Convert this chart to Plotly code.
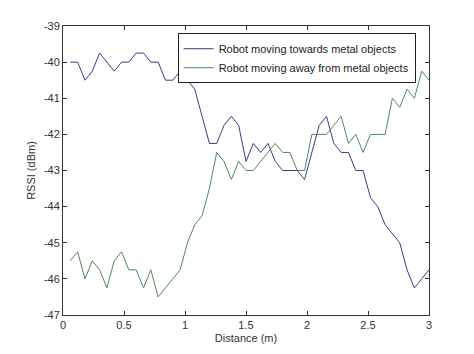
import plotly.graph_objects as go

distance = [round(0.06 * i, 2) for i in range(1, 51)]

towards = [-40, -40, -40.5, -40.25, -39.75, -40, -40.25, -40, -40, -39.75,
           -39.75, -40, -40, -40.5, -40.5, -40.25, -40.5, -40.75, -41.5, -42.25,
           -42.25, -41.75, -41.5, -41.75, -42.75, -42.25, -42.5, -42.25, -42.75, -43,
           -43, -43, -43.25, -42.5, -41.75, -41.5, -42.25, -42.5, -42.5, -43,
           -43, -43.75, -44, -44.5, -44.75, -45, -45.75, -46.25, -46, -45.75]

away = [-45.5, -45.25, -46, -45.5, -45.75, -46.25, -45.5, -45.25, -45.75, -45.75,
        -46.25, -45.75, -46.5, -46.25, -46, -45.75, -45, -44.5, -44.25, -43.5,
        -42.5, -42.75, -43.25, -42.75, -43, -43, -42.75, -42.5, -42.25, -42.5,
        -42.5, -43, -43, -42, -42, -42, -41.75, -41.5, -42.25, -42,
        -42.5, -42, -42, -42, -41, -41.25, -40.75, -41, -40.25, -40.5]

x_ticks = [0, 0.5, 1, 1.5, 2, 2.5, 3]
x_tick_text = ["0", "0.5", "1", "1.5", "2", "2.5", "3"]
y_ticks = [-47, -46, -45, -44, -43, -42, -41, -40, -39]
y_tick_text = ["-47", "-46", "-45", "-44", "-43", "-42", "-41", "-40", "-39"]

fig = go.Figure()
fig.add_trace(go.Scatter(x=distance, y=towards, mode="lines",
                         name="Robot moving towards metal objects",
                         line=dict(color="#3b3b82", width=1)))
fig.add_trace(go.Scatter(x=distance, y=away, mode="lines",
                         name="Robot moving away from metal objects",
                         line=dict(color="#4f8a5a", width=1)))

axis_common = dict(showgrid=False, zeroline=False, showline=True, linecolor="#333333",
                   linewidth=1, mirror="ticks", ticks="inside", ticklen=4,
                   tickcolor="#333333", tickfont=dict(family="Liberation Sans", size=11, color="#333333"))

fig.update_xaxes(range=[0, 3], tickvals=x_ticks, ticktext=x_tick_text,
                 title=dict(text="Distance (m)", font=dict(family="Liberation Sans", size=11, color="#333333"), standoff=4),
                 **axis_common)
fig.update_yaxes(range=[-47, -39], tickvals=y_ticks, ticktext=y_tick_text,
                 title=dict(text="RSSI (dBm)", font=dict(family="Liberation Sans", size=11, color="#333333"), standoff=6),
                 **axis_common)

fig.update_layout(
    width=474, height=354,
    margin=dict(l=63, r=45, t=26, b=39),
    paper_bgcolor="white", plot_bgcolor="white",
    font=dict(family="Liberation Sans", size=11, color="#333333"),
    legend=dict(x=0.9635, y=0.975, xanchor="right", yanchor="top",
                bordercolor="#222222", borderwidth=1, bgcolor="white",
                font=dict(family="Liberation Sans", size=11, color="#222222"),
                tracegroupgap=0, itemwidth=30),
    showlegend=True,
)

fig.write_html("out.html")
